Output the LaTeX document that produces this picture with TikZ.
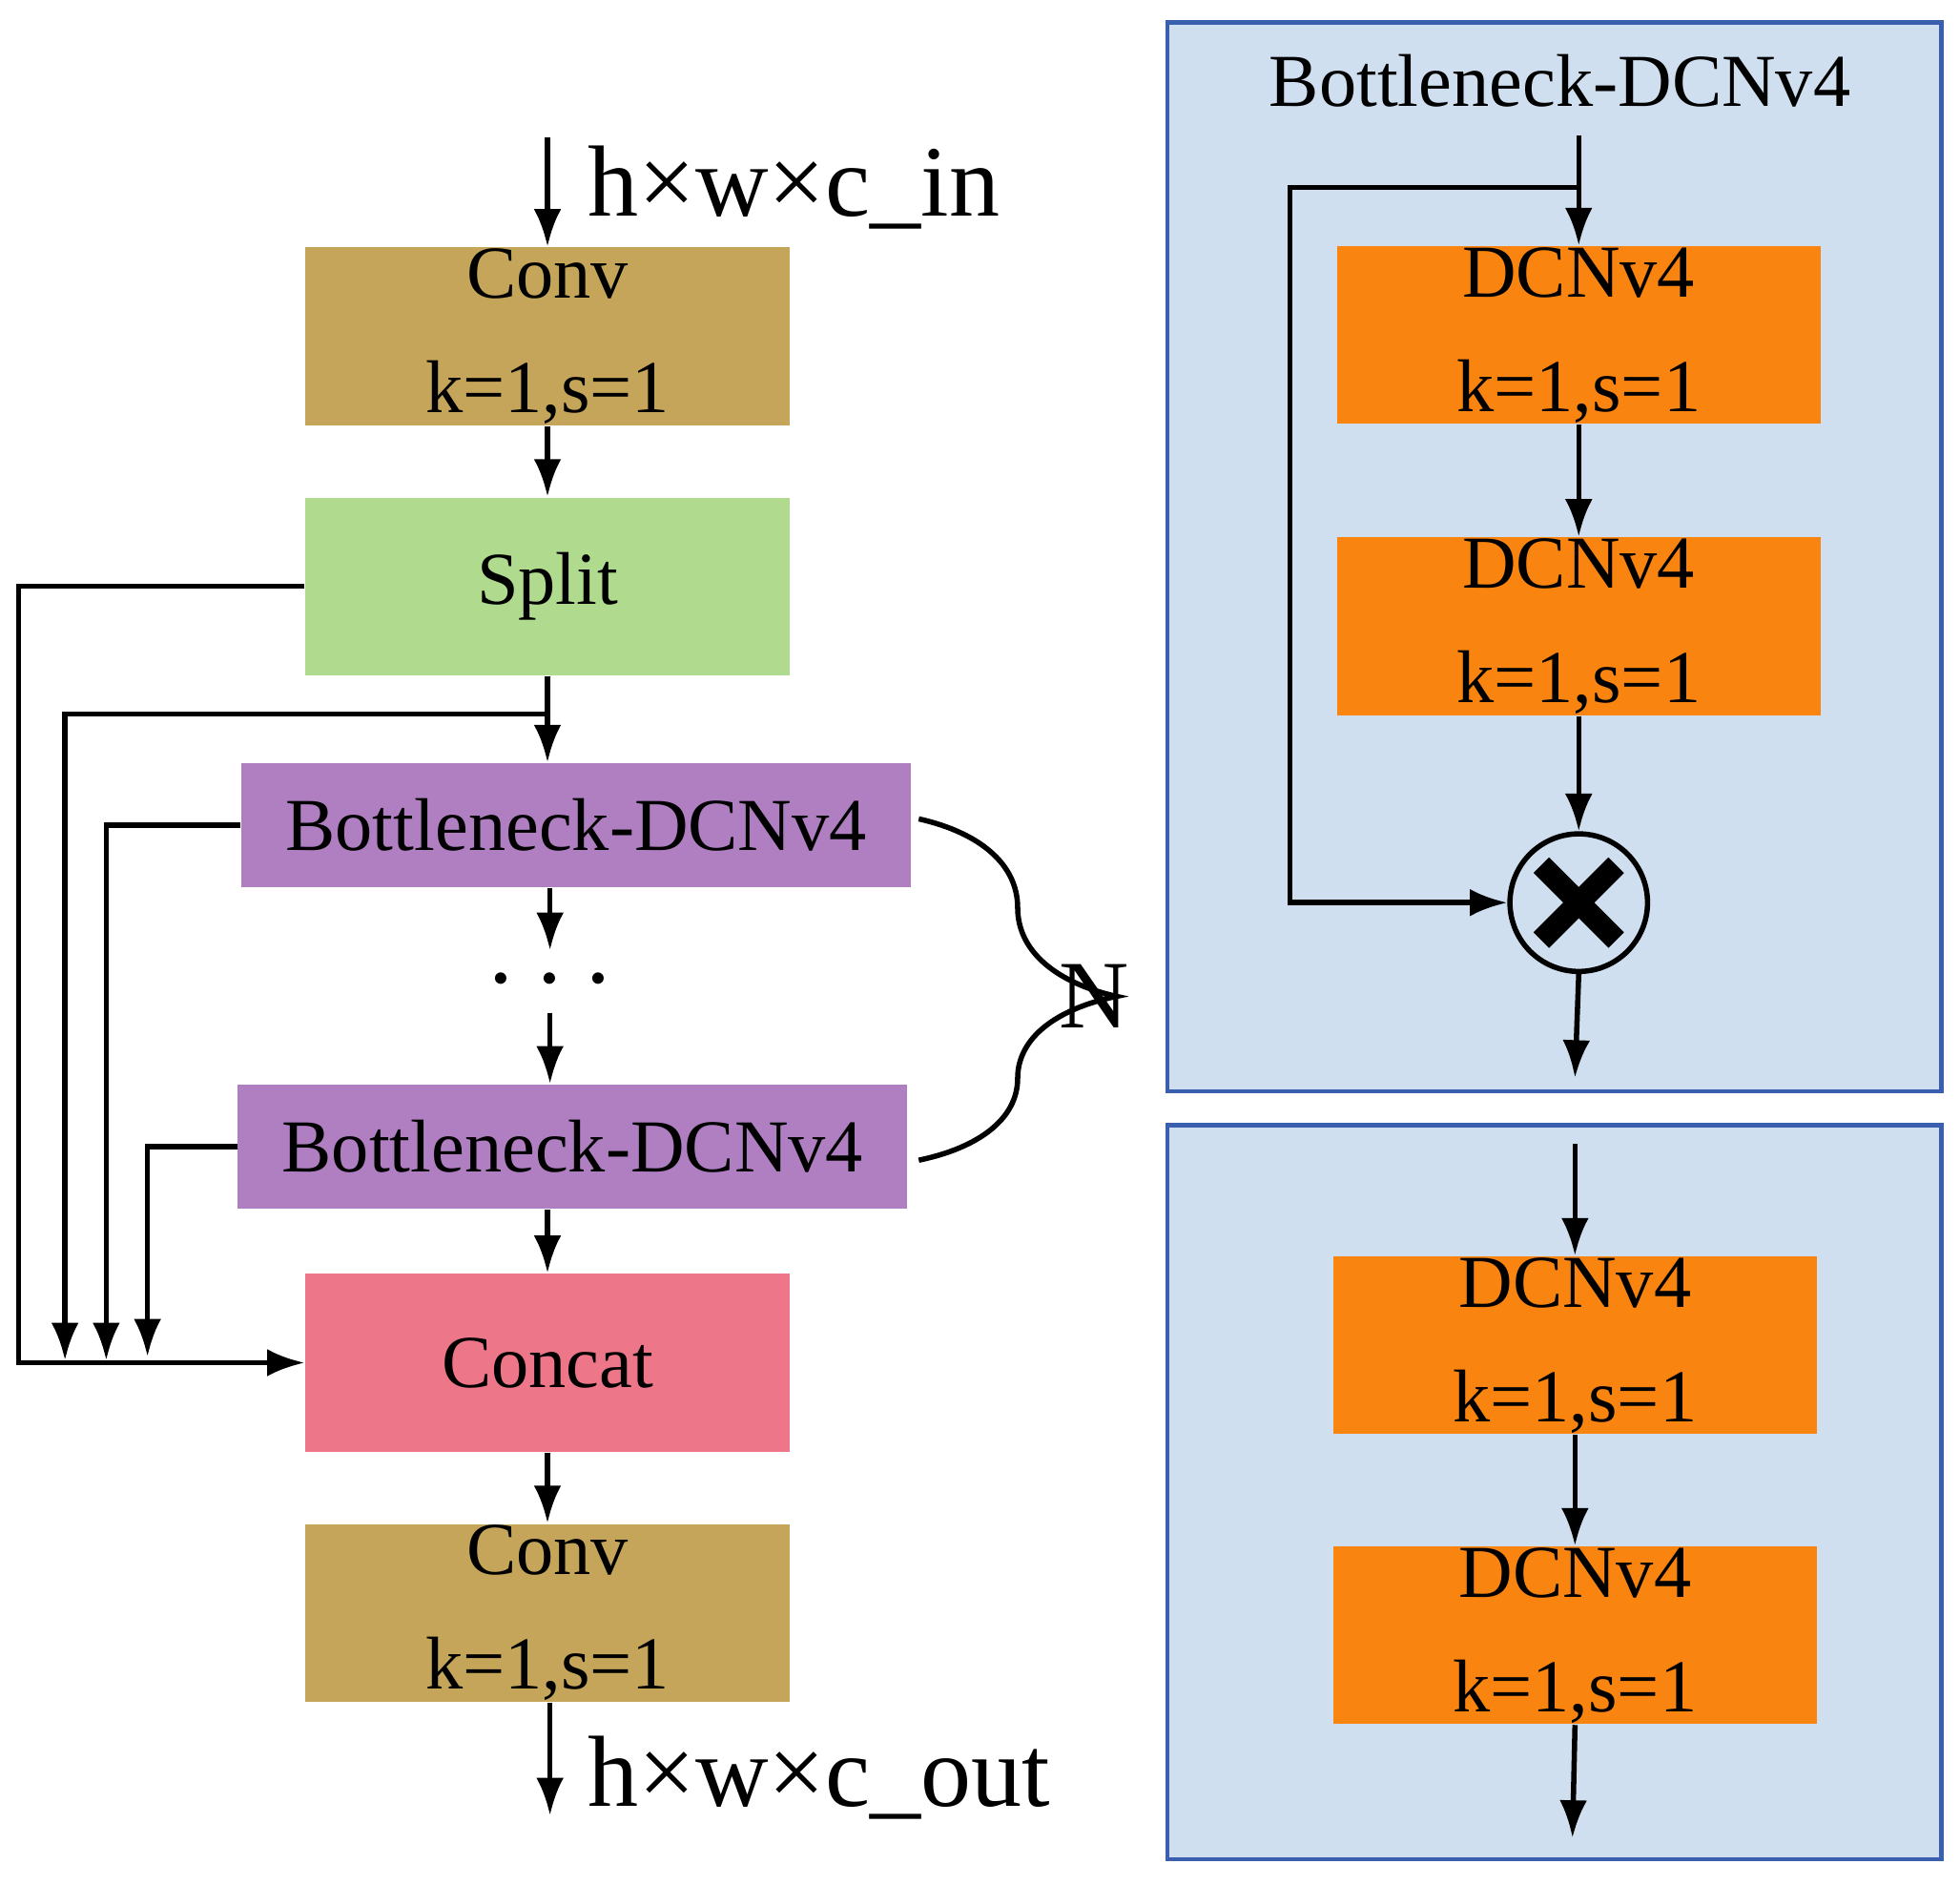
\documentclass[tikz,border=0pt]{standalone}
\usepackage{fontspec}
\setmainfont{Liberation Serif}
\usetikzlibrary{arrows.meta,positioning,decorations.pathreplacing,calc}
\definecolor{convtan}{RGB}{196,165,90}
\definecolor{splitgreen}{RGB}{176,218,142}
\definecolor{bottlepurple}{RGB}{176,127,194}
\definecolor{concatpink}{RGB}{238,118,137}
\definecolor{dcnorange}{RGB}{249,132,16}
\definecolor{panelblue}{RGB}{207,223,239}
\definecolor{panelline}{RGB}{59,95,175}
\tikzset{
  blk/.style={minimum width=3.87cm, minimum height=1.42cm, align=center, inner sep=0pt, font=\fontsize{17}{26}\selectfont},
  wideblk/.style={blk, minimum width=5.35cm, minimum height=0.99cm},
  arr/.style={-{Latex[length=3mm,width=2.2mm]}, line width=1.2pt},
  ln/.style={line width=1.2pt},
  panel/.style={draw=panelline, fill=panelblue, line width=1pt}
}
\begin{document}
\begin{tikzpicture}[x=0.01cm, y=-0.01cm]
\useasboundingbox (0,0) rectangle (1568,1507);

% Right panels
\draw[panel] (934,18) rectangle (1553,873);
\draw[panel] (934,900) rectangle (1553,1487);
\node[font=\fontsize{17}{20}\selectfont] (title) at (1248,65) {Bottleneck-DCNv4};

% Left chain
\node[blk, fill=convtan] (conv1) at (438,269) {Conv\\k=1,s=1};
\node[blk, fill=splitgreen] (split) at (438,469) {Split};
\node[wideblk, fill=bottlepurple] (bn1) at (461,660) {Bottleneck-DCNv4};
\node[font=\fontsize{26}{26}\selectfont, inner sep=0pt] (dots) at (440,785) {$\cdots$};
\node[wideblk, fill=bottlepurple] (bn2) at (458,917) {Bottleneck-DCNv4};
\node[blk, fill=concatpink] (concat) at (438,1090) {Concat};
\node[blk, fill=convtan] (conv2) at (438,1290) {Conv\\k=1,s=1};

\coordinate (in) at (438,110);
\coordinate (out) at (440,1452);
\node[anchor=west, font=\fontsize{23}{26}\selectfont] (inlab) at (458,150) {h×w×c\_in};
\node[anchor=west, font=\fontsize{23}{26}\selectfont] (outlab) at (458,1422) {h×w×c\_out};

\draw[arr] (in) -- (conv1);
\draw[arr] (conv1) -- (split);
\draw[arr] (split.south) -- (split.south |- bn1.north);
\draw[arr] (bn1.south -| dots) -- ($(dots)+(0,-25)$);
\draw[arr] ($(dots)+(0,25)$) -- (bn2.north -| dots);
\draw[arr] (bn2.south -| concat) -- (concat);
\draw[arr] (concat) -- (conv2);
\draw[arr] (conv2.south -| out) -- (out);

% Side branches into Concat
\coordinate (tap) at (437,571);
\draw[arr] (split.west) -- (15,469) -- (15,1090) -- (concat.west);
\draw[arr] (tap) -- (52,571) -- (52,1088);
\draw[arr] (bn1.west) -- (85,655 |- bn1.west) -- (85,1088);
\draw[arr] (bn2.west) -- (118,917) -- (118,1085);

% Brace
\draw[ln, decorate, decoration={brace, amplitude=45pt, aspect=0.52}] (735,655) -- (735,928);
\node[font=\fontsize{22}{24}\selectfont] (nlab) at (875,797) {N};

% Right panel 1
\node[blk, fill=dcnorange] (dcn1) at (1263,268) {DCNv4\\k=1,s=1};
\node[blk, fill=dcnorange] (dcn2) at (1263,501) {DCNv4\\k=1,s=1};
\node[circle, draw, line width=1.2pt, minimum size=1.1cm, inner sep=0pt] (mul) at (1263,722) {};
\draw[line width=5pt] ($(mul)+(-30,-30)$) -- ($(mul)+(30,30)$);
\draw[line width=5pt] ($(mul)+(-30,30)$) -- ($(mul)+(30,-30)$);
\coordinate (p1in) at (1263,108);
\coordinate (p1fork) at (1263,150);
\coordinate (p1out) at (1260,862);
\draw[arr] (p1in) -- (dcn1);
\draw[arr] (p1fork) -- (1032,150) -- (1032,722) -- (mul.west);
\draw[arr] (dcn1) -- (dcn2);
\draw[arr] (dcn2) -- (mul);
\draw[arr] (mul.south) -- (p1out);

% Right panel 2
\node[blk, fill=dcnorange] (dcn3) at (1260,1076) {DCNv4\\k=1,s=1};
\node[blk, fill=dcnorange] (dcn4) at (1260,1308) {DCNv4\\k=1,s=1};
\coordinate (p2in) at (1260,915);
\coordinate (p2out) at (1258,1470);
\draw[arr] (p2in) -- (dcn3);
\draw[arr] (dcn3) -- (dcn4);
\draw[arr] (dcn4.south) -- (p2out);
\end{tikzpicture}
\end{document}
